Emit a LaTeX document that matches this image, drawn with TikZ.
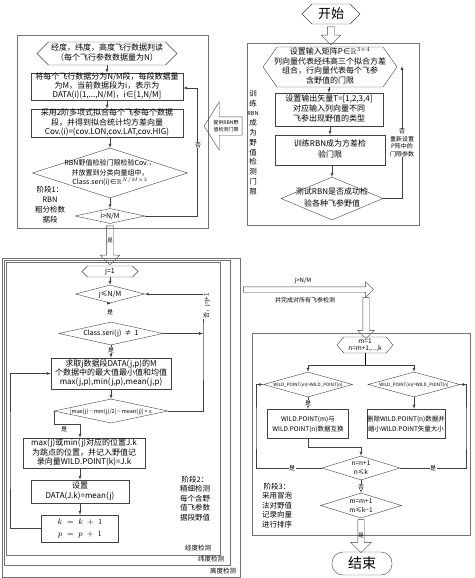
\documentclass[tikz,border=0pt]{standalone}
\usepackage{amsmath}
\usepackage{amssymb}
\usepackage{fontspec}
\setmainfont{Noto Sans CJK SC}
\usepackage{tikz}
\usetikzlibrary{arrows,shapes.geometric,shapes.symbols,shapes.arrows}

\newcommand{\dtxt}[1]{\smash{\makebox[0pt]{\raisebox{-2pt}{\begin{tabular}{@{}c@{}}#1\end{tabular}}}}}
\newcommand{\fs}[2]{\fontsize{#1}{#2}\selectfont}

\begin{document}
\begin{tikzpicture}[x=1pt, y=-1pt, every node/.style={inner sep=0pt, font=\fs{8}{9}}]
        \tikzset{box/.style={draw=black!75, rectangle}}
        \tikzset{hexa/.style={draw=black!75, signal, signal to=east and west}}
        \tikzset{dia/.style={draw=black!75, diamond, font=\fs{7}{9.5}}}
        \tikzset{frame/.style={draw=black!55, rectangle}}
        \tikzset{blk/.style={draw=black!75, single arrow, single arrow head extend=6pt, inner xsep=0pt, inner ysep=3.5pt}}
        \tikzset{lbl/.style={fill=white, inner sep=0.5pt, font=\fs{6}{7}}}
        \tikzset{arr/.style={-latex, black!75}}
        \useasboundingbox (0,0) rectangle (474,578);
        % stage 1
        \node[frame, minimum width=191, minimum height=193] (s1) at (112.5,131.5) {};
        \node[hexa, minimum width=140, minimum height=23] (read) at (107,53.5) {\dtxt{经度，纬度，高度飞行数据判读\\（每个飞行参数数据量为N）}};
        \node[box, minimum width=152, minimum height=27] (seg) at (107,86.5) {\dtxt{将每个飞行数据分为N/M段，每段数据量\\为M，当前数据段为i，表示为\\DATA(i)(1,...,N/M)，i∈[1,N/M]}};
        \node[box, minimum width=152, minimum height=28] (fit) at (107,123) {\dtxt{采用2阶多项式拟合每个飞参每个数据\\段，并得到拟合统计均方差向量\\Cov.(i)=(cov.LON,cov.LAT,cov.HIG)}};
        \node[dia, minimum width=155, minimum height=50] (chk) at (110,173) {\dtxt{RBN野值检验门限检验Cov.，\\并放置到分类向量组中，\\Class.seri(i)∈$\mathbb{R}^{N/M\times 3}$}};
        \node[dia, minimum width=70, minimum height=15] (iNM) at (110,216) {\dtxt{i>N/M}};
        \node[font=\fs{7.5}{10}] (st1) at (50,205) {\dtxt{阶段1：\\RBN\\粗分检数\\据段}};
        \path (read.south) edge[arr] (seg.north);
        \path (seg.south) edge[arr] (fit.north);
        \path (chk.north |- fit.south) edge[arr] (chk.north);
        \path (chk.south) edge[arr] (iNM.north);
        \coordinate (c1) at (197,88);
        \draw[arr] (iNM.east) -| (c1) -- (c1 -| seg.east);
        \node[lbl] (no1) at (198,145) {否};
        % RBN training
        \node[hexa, font=\fs{13}{15}, minimum width=58, minimum height=20] (start) at (331,14) {开始};
        \node[blk, rotate=-90, minimum height=18] (a0) at (331,34) {};
        \node[frame, minimum width=172, minimum height=182] (s0) at (333,134) {};
        \node[hexa, signal pointer angle=110, minimum width=134, minimum height=40, font=\fs{8}{9.5}] (pin) at (330,67) {\dtxt{设置输入矩阵P∈$\mathbb{R}^{3\times4}$\\列向量代表经纬高三个拟合方差\\组合，行向量代表每个飞参\\含野值的门限}};
        \node[box, minimum width=108, minimum height=33, font=\fs{8}{9.5}] (tout) at (329,109.5) {\dtxt{设置输出矢量T=[1,2,3,4]\\对应输入列向量不同\\飞参出现野值的类型}};
        \node[box, minimum width=110, minimum height=30, font=\fs{8}{11}] (train) at (330,150) {\dtxt{训练RBN成为方差检\\验门限}};
        \node[dia, minimum width=102, minimum height=43, font=\fs{8}{12}] (test) at (332,198.5) {\dtxt{测试RBN是否成功检\\验各种飞参野值}};
        \node[font=\fs{7.5}{9.8}] (vt) at (253,143) {\dtxt{训\\练\\{\fs{5.5}{9.8}RBN}\\成\\为\\野\\值\\检\\测\\门\\限}};
        \path (pin.south -| tout.north) edge[arr] (tout.north);
        \path (tout.south -| train.north) edge[arr] (train.north);
        \path (train.south -| test.north) edge[arr] (test.north);
        \coordinate (rt) at (402,66);
        \draw[arr] (test.east) -| (rt);
        \node[lbl, align=center, font=\fs{6}{7.5}] (redo) at (402,143) {否\\重新设置\\P阵中的\\门限参数};
        \node[blk, shape border rotate=180, minimum height=38, inner ysep=9pt, single arrow head extend=15pt, single arrow tip angle=116, font=\fs{5}{6.5}] (give) at (226,126) {\dtxt{提供RBN野\\值检测门限}};
        % stage 2
        \node[blk, rotate=-90, minimum height=39] (a2) at (110,243.5) {};
        \node[font=\fs{5.5}{6}] (yes0) at (110,241) {是};
        \node[frame, minimum width=238, minimum height=319] (fh) at (121,417.5) {};
        \node[frame, minimum width=226, minimum height=305] (fw) at (117,412.5) {};
        \node[frame, minimum width=214, minimum height=293] (fj) at (113,408.5) {};
        \node[font=\fs{6.5}{7}] (lj) at (198,548) {经度检测};
        \node[font=\fs{6.5}{7}] (lw) at (211,559.5) {纬度检测};
        \node[font=\fs{6.5}{7}] (lh) at (223,571) {高度检测};
        \node[hexa, minimum width=56, minimum height=11, font=\fs{7}{8}] (j1) at (110,271.5) {\dtxt{j=1}};
        \node[dia, minimum width=69, minimum height=18] (jNM) at (110,294) {\dtxt{j≤N/M}};
        \node[dia, minimum width=104, minimum height=23] (cls) at (111,333.5) {\dtxt{Class.seri(j)\ \ ≠\ \ 1}};
        \node[box, minimum width=120, minimum height=31] (mm) at (111,373.5) {\dtxt{求取j数据段DATA(j,p)的M\\个数据中的最大值最小值和均值\\max(j,p),min(j,p),mean(j,p)}};
        \node[dia, minimum width=114, minimum height=24, font=\fs{5.5}{7}] (eps) at (111,411) {\dtxt{|max(j) − min(j)/2| − mean(j)| > ε}};
        \node[box, minimum width=122, minimum height=30] (jump) at (84,453) {\dtxt{max(j)或min(j)对应的位置J.k\\为跳点的位置，并记入野值记\\录向量WILD.POINT(k)=J.k}};
        \node[box, minimum width=98, minimum height=23] (setd) at (80,491.5) {\dtxt{设置\\DATA(J.k)=mean(j)}};
        \node[box, minimum width=77, minimum height=27, font=\fs{8}{12}] (kp) at (80,528.5) {\dtxt{$k\;=\;k\;+\;1$\\$p\;=\;p\;+\;1$}};
        \node[font=\fs{7.5}{9.5}] (st2) at (195,499) {\dtxt{阶段2：\\精细检测\\每个含野\\值飞参数\\据段野值}};
        \path (j1.south) edge[arr] (jNM.north);
        \path (jNM.south) edge[arr] (jNM.south -| cls.north);
        \node[lbl] (yes1) at (110,312) {是};
        \path (cls.south) edge[arr] (mm.north);
        \node[lbl] (yes2) at (111,350) {是};
        \path (mm.south) edge[arr] (eps.north);
        \coordinate (c4) at (80,424);
        \draw[arr] (eps.west) |- (c4) -- (c4 |- jump.north);
        \node[font=\fs{6}{7}] (yes3) at (64,429) {是};
        \path (jump.south -| setd.north) edge[arr] (setd.north);
        \path (setd.south) edge[arr] (kp.north);
        \coordinate (lp) at (10,450);
        \draw[arr] (kp.west) -| (lp) |- (mm.west);
        \coordinate (rl) at (203,350);
        \draw[arr] (eps.east) -| (rl) |- (jNM.east);
        \path (cls.east) edge[arr] (cls.east -| rl);
        \node[lbl, rotate=90] (no2) at (207,306) {否，j=j+1};
        % to stage 3
        \node[blk, minimum height=130, inner ysep=2.5pt, single arrow head extend=5pt] (a3) at (307,289.5) {};
        \node[font=\fs{6}{7}] (jgt) at (303,281) {j>N/M};
        \node[font=\fs{6}{7}] (done) at (305,300) {并完成对所有飞参检测};
        \node[blk, rotate=-90, minimum height=41, inner ysep=3pt, single arrow head extend=5pt] (a4) at (366,316.5) {};
        % stage 3
        \node[frame, minimum width=218, minimum height=202] (s3) at (361,434) {};
        \node[hexa, signal pointer angle=100, minimum width=56, minimum height=16, font=\fs{6.5}{7.5}] (mn) at (365,345) {\dtxt{m=1\\n=m+1,...,k}};
        \coordinate (sp) at (365,365);
        \node[dia, minimum width=89, minimum height=25, font=\fs{4.5}{5}] (gt) at (308,384.5) {\dtxt{WILD\_POINT(m)>WILD\_POINT(n)}};
        \node[dia, minimum width=92, minimum height=25, font=\fs{4.5}{5}] (eq) at (414,384.5) {\dtxt{WILD\_POINT(m)=WILD\_POINT(n)}};
        \draw (mn.south) -- (sp);
        \draw[arr] (sp) -| (gt.north);
        \draw[arr] (sp) -| (eq.north);
        \node[box, minimum width=81, minimum height=29, font=\fs{6.5}{10}] (swap) at (308,423.5) {\dtxt{WILD.POINT(m)与\\WILD.POINT(n)数据互换}};
        \node[box, minimum width=78, minimum height=29, font=\fs{6.5}{10}] (del) at (406,423.5) {\dtxt{删除WILD.POINT(n)数据并\\缩小WILD.POINT矢量大小}};
        \path (gt.south) edge[arr] (swap.north);
        \node[lbl] (yes4) at (308,403) {是};
        \path (eq.south) edge[arr] (eq.south |- del.north);
        \node[dia, minimum width=78, minimum height=24, font=\fs{6.5}{9}] (nk) at (361,468) {\dtxt{n=n+1\\n≤k}};
        \node[dia, minimum width=81, minimum height=25, font=\fs{6.5}{9}] (mk) at (361,505.5) {\dtxt{m=m+1\\m≤k−1}};
        \coordinate (c6) at (361,447);
        \draw[arr] (swap.south) |- (c6) -- (nk.north);
        \coordinate (ll) at (256,430);
        \coordinate (rr) at (466,430);
        \draw[arr] (nk.west) -| (ll) |- (gt.west);
        \draw[arr] (nk.east) -| (rr) |- (eq.east);
        \node[lbl] (yes5) at (292,468) {是};
        \node[lbl] (yes6) at (433,468) {是};
        \path (nk.south) edge[arr] (mk.north);
        \node[lbl] (no3) at (361,487) {否};
        \node[font=\fs{7.5}{9.5}] (st3) at (277,506) {\dtxt{阶段3：\\采用冒泡\\法对野值\\记录向量\\进行排序}};
        \node[blk, rotate=-90, minimum height=33, inner ysep=3pt, single arrow head extend=7pt] (a5) at (361,534.5) {};
        \node[font=\fs{5.5}{6}] (yes7) at (361,536) {是};
        \node[draw=black!75, rounded corners=11pt, minimum width=60, minimum height=23, font=\fs{14}{16}] (end) at (362,563.5) {结束};
\end{tikzpicture}
\end{document}
